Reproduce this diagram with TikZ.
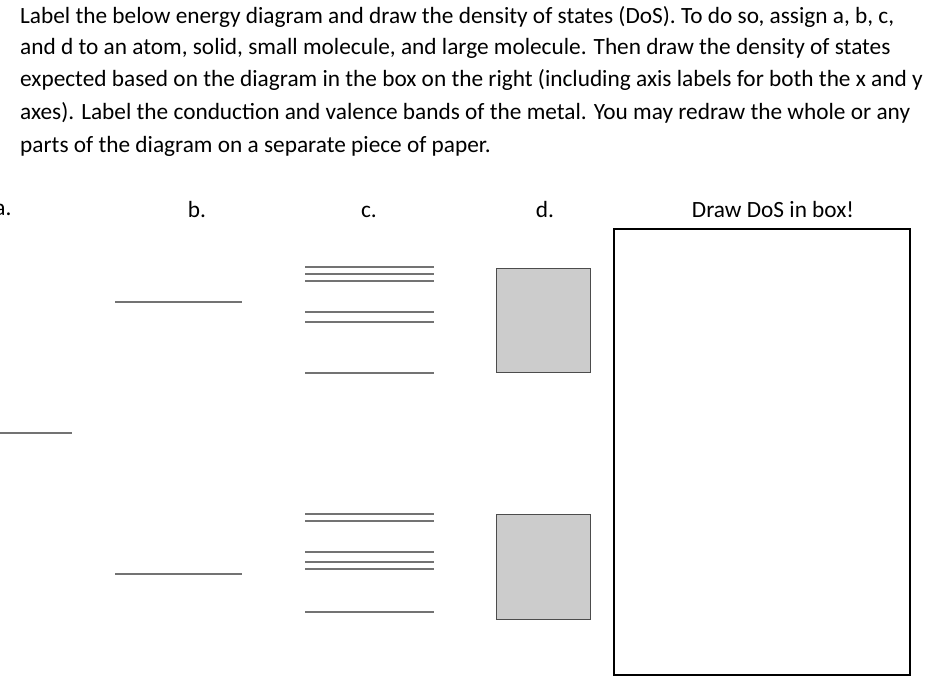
\documentclass[tikz,border=0pt]{standalone}
\usepackage{fontspec}
\setmainfont{Carlito}
\begin{document}
\begin{tikzpicture}[x=1pt,y=-1pt,
  txt/.style={anchor=west,inner sep=0pt,font=\fontsize{23.3}{26}\selectfont},
  lbl/.style={inner sep=0pt,font=\fontsize{23.3}{26}\selectfont},
  lvl/.style={draw=black!55,line width=1.2pt},
  band/.style={draw=black!70,fill=black!20,line width=0.8pt}]
\useasboundingbox (0,0) rectangle (927,681);
\node[txt] (t1) at (20,17) {Label the below energy diagram and draw the density of states (DoS). To do so, assign a, b, c,};
\node[txt] (t2) at (20,48) {and d to an atom, solid, small molecule, and large molecule. Then draw the density of states};
\node[txt] (t3) at (20,80) {expected based on the diagram in the box on the right (including axis labels for both the x and y};
\node[txt] (t4) at (20,113) {axes). Label the conduction and valence bands of the metal. You may redraw the whole or any};
\node[txt] (t5) at (20,146) {parts of the diagram on a separate piece of paper.};
\node[lbl] (la) at (3,210) {a.};
\node[lbl] (lb) at (197,209) {b.};
\node[lbl] (lc) at (369,212) {c.};
\node[lbl] (ld) at (545,209) {d.};
\node[lbl] (ldos) at (773,209) {Draw DoS in box!};
\draw[lvl] (0,433) -- (72,433);
\foreach \y in {302,574} \draw[lvl] (115,\y) -- (242,\y);
\foreach \y in {267,274,281,312,322,373,514,521,552,562,569,612} \draw[lvl] (305,\y) -- (434,\y);
\draw[band] (496,268) rectangle (590,372);
\draw[band] (496,514) rectangle (590,619);
\draw[line width=2.5pt] (614,229) rectangle (910,675);
\end{tikzpicture}
\end{document}
